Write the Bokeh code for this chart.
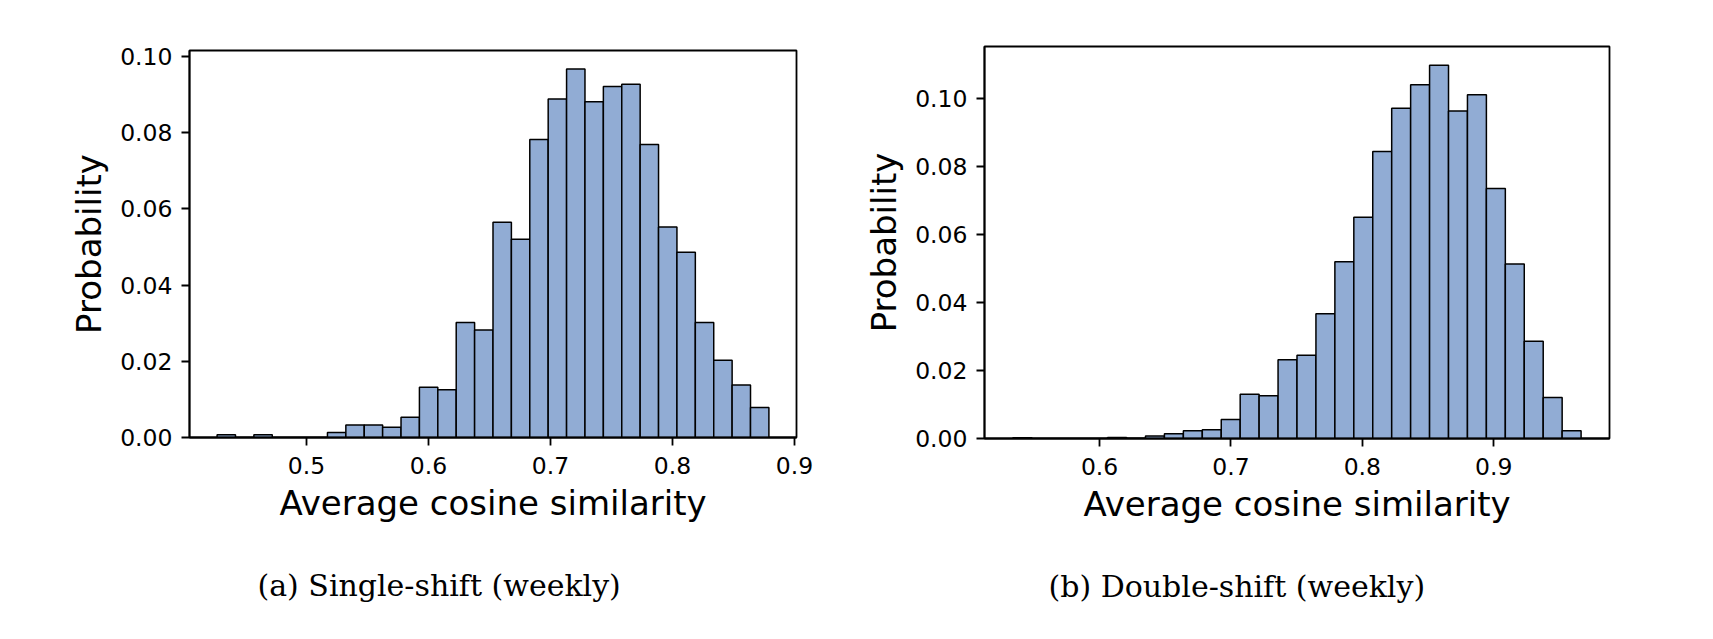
import numpy as np
from bokeh.plotting import figure
from bokeh.layouts import row, column
from bokeh.models import Range1d, FixedTicker, PrintfTickFormatter, Title, Spacer
from bokeh.embed import file_html
from bokeh.resources import INLINE

# ---------------- data ----------------
# (a) Single-shift (weekly): 30 bins
left_range = (0.4268, 0.8790)
left_heights = [0.0007, 0.0, 0.0007, 0.0, 0.0, 0.0, 0.0013, 0.0033, 0.0033, 0.0027,
                0.0053, 0.0132, 0.0125, 0.0302, 0.0282, 0.0565, 0.0520, 0.0782, 0.0888, 0.0967,
                0.0881, 0.0921, 0.0927, 0.0769, 0.0552, 0.0486, 0.0302, 0.0203, 0.0138, 0.0079]
left_xticks = [0.5, 0.6, 0.7, 0.8, 0.9]
left_yticks = [0.0, 0.02, 0.04, 0.06, 0.08, 0.10]

# (b) Double-shift (weekly): 30 bins
right_range = (0.5340, 0.9665)
right_heights = [0.0002, 0.0, 0.0, 0.0, 0.0, 0.0003, 0.0001, 0.0007, 0.0014, 0.0023,
                 0.0026, 0.0056, 0.0130, 0.0126, 0.0232, 0.0245, 0.0367, 0.0520, 0.0651, 0.0845,
                 0.0972, 0.1041, 0.1099, 0.0964, 0.1012, 0.0736, 0.0514, 0.0286, 0.0121, 0.0023]
right_xticks = [0.6, 0.7, 0.8, 0.9]
right_yticks = [0.0, 0.02, 0.04, 0.06, 0.08, 0.10]

captions = ["(a) Single-shift (weekly)", "(b) Double-shift (weekly)"]
x_label = "Average cosine similarity"
y_label = "Probability"

BAR_FILL = "#91ACD4"


def make_panel(rng, heights, xticks, yticks, caption, frame_w, frame_h,
               b_left, b_right, b_top, b_bottom, cap_offset):
    heights = np.array(heights)
    edges = np.linspace(rng[0], rng[1], len(heights) + 1)
    span = rng[1] - rng[0]
    ymax = heights.max() * 1.05
    p = figure(frame_width=frame_w, frame_height=frame_h,
               min_border_left=b_left, min_border_right=b_right,
               min_border_top=b_top, min_border_bottom=b_bottom,
               x_range=Range1d(rng[0] - 0.05 * span, rng[1] + 0.05 * span),
               y_range=Range1d(0, ymax),
               output_backend="svg", toolbar_location=None,
               background_fill_color="white", border_fill_color="white")
    p.quad(left=edges[:-1], right=edges[1:], bottom=0, top=heights,
           fill_color=BAR_FILL, line_color="black", line_width=1.5)
    p.grid.visible = False
    p.outline_line_color = "black"
    p.outline_line_width = 1.8
    p.outline_line_alpha = 1.0

    for ax in (p.xaxis[0], p.yaxis[0]):
        ax.axis_line_color = "black"
        ax.axis_line_width = 1.8
        ax.major_tick_line_color = "black"
        ax.major_tick_line_width = 1.8
        ax.major_tick_in = 0
        ax.major_tick_out = 8
        ax.minor_tick_line_color = None
        ax.major_label_text_font = "DejaVu Sans"
        ax.major_label_text_font_size = "23.5px"
        ax.major_label_text_color = "black"
        ax.axis_label_text_font = "DejaVu Sans"
        ax.axis_label_text_font_size = "34px"
        ax.axis_label_text_font_style = "normal"
        ax.axis_label_text_color = "black"

    p.xaxis[0].ticker = FixedTicker(ticks=xticks)
    p.xaxis[0].formatter = PrintfTickFormatter(format="%.1f")
    p.xaxis[0].major_label_standoff = 11
    p.xaxis[0].axis_label = x_label
    p.xaxis[0].axis_label_standoff = 6

    p.yaxis[0].ticker = FixedTicker(ticks=yticks)
    p.yaxis[0].formatter = PrintfTickFormatter(format="%.2f")
    p.yaxis[0].major_label_standoff = 9
    p.yaxis[0].axis_label = y_label
    p.yaxis[0].axis_label_standoff = 8

    # blank spacer title to push the caption a little further down
    p.add_layout(Title(text=" ", standoff=0, text_font_size="8px"), "below")
    p.add_layout(Title(text=caption, align="left", offset=cap_offset,
                       standoff=58, text_font="DejaVu Serif", text_font_size="30px",
                       text_font_style="normal", text_color="black"), "below")
    return p


p1 = make_panel(left_range, left_heights, left_xticks, left_yticks, captions[0],
                frame_w=607, frame_h=387, b_left=189, b_right=40, b_top=46, b_bottom=196,
                cap_offset=68)
p2 = make_panel(right_range, right_heights, right_xticks, right_yticks, captions[1],
                frame_w=625, frame_h=392, b_left=148, b_right=60, b_top=46, b_bottom=195,
                cap_offset=64)

layout = row(column(Spacer(height=4), p1), p2)
open("out.html", "w").write(file_html(layout, INLINE))
